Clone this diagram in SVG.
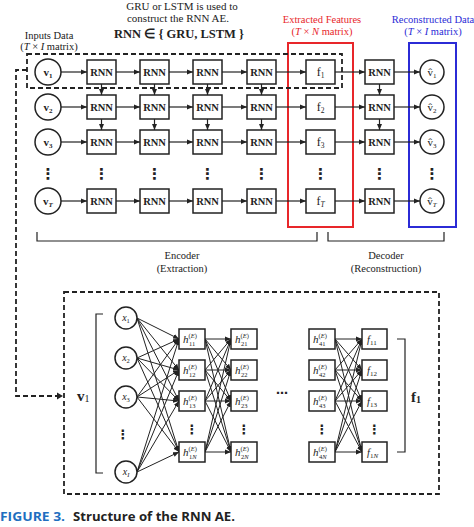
<svg xmlns="http://www.w3.org/2000/svg" width="474" height="527" viewBox="0 0 474 527">
<style>
.t{font-family:"Liberation Serif","Times New Roman",serif;fill:#222}
.b{font-weight:bold}
.i{font-style:italic}
.box{fill:#fff;stroke:#222;stroke-width:1.5}
.cir{fill:#fff;stroke:#222;stroke-width:1.5}
.ln{stroke:#222;stroke-width:1.2;fill:none}
.ar{stroke:#222;stroke-width:1.2;fill:none;marker-end:url(#ah)}
.ar2{stroke:#222;stroke-width:1;fill:none;marker-end:url(#ah2)}
.dash{stroke:#222;stroke-width:1.8;fill:none;stroke-dasharray:5 3}
.dots{font-family:"DejaVu Sans",sans-serif;font-weight:bold;fill:#222;text-anchor:middle}
.c{text-anchor:middle}
</style>
<defs>
<marker id="ah" markerWidth="6" markerHeight="6" refX="6" refY="3" orient="auto" markerUnits="userSpaceOnUse"><path d="M0,0.5 L6,3 L0,5.5z" fill="#222"/></marker>
<marker id="ah2" markerWidth="6" markerHeight="6" refX="6" refY="3" orient="auto" markerUnits="userSpaceOnUse"><path d="M0,0.5 L6,3 L0,5.5z" fill="#222"/></marker>
</defs>
<rect width="474" height="527" fill="#fff"/>

<!-- header texts -->
<g id="header">
<text class="t c" x="182" y="10" font-size="11">GRU or LSTM is used to</text>
<text class="t c" x="178" y="22" font-size="11">construct the RNN AE.</text>
<text class="t b c" x="179" y="38" font-size="12.5">RNN  ∈ { GRU, LSTM }</text>
<text class="t c" x="49" y="39" font-size="10.5">Inputs Data</text>
<text class="t c" x="49" y="50" font-size="10.5">(<tspan class="i">T</tspan> × <tspan class="i">I</tspan> matrix)</text>
<text class="t c" x="322" y="23" font-size="10.5" style="fill:#e8262a">Extracted Features</text>
<text class="t c" x="322" y="35" font-size="10.5" style="fill:#e8262a">(<tspan class="i">T</tspan> × <tspan class="i">N</tspan> matrix)</text>
<text class="t c" x="433" y="23" font-size="10.5" style="fill:#2b2bd6">Reconstructed Data</text>
<text class="t c" x="433" y="35" font-size="10.5" style="fill:#2b2bd6">(<tspan class="i">T</tspan> × <tspan class="i">I</tspan> matrix)</text>
</g>

<!-- colored groups -->
<rect id="features-frame" x="288" y="43" width="65" height="184" fill="none" stroke="#e8262a" stroke-width="2"/>
<rect id="recon-frame" x="409" y="43" width="47" height="184" fill="none" stroke="#2b2bd6" stroke-width="2"/>

<!-- connectors top -->
<g id="connectors-top">
<path class="ar" d="M61,72H87"/><path class="ar" d="M116,72H140"/><path class="ar" d="M169,72H193"/><path class="ar" d="M222,72H247"/><path class="ar" d="M276,72H306"/><path class="ar" d="M335,72H365"/><path class="ar" d="M394,72H420"/>
<path class="ar" d="M61,107H87"/><path class="ar" d="M116,107H140"/><path class="ar" d="M169,107H193"/><path class="ar" d="M222,107H247"/><path class="ar" d="M276,107H306"/><path class="ar" d="M335,107H365"/><path class="ar" d="M394,107H420"/>
<path class="ar" d="M61,142H87"/><path class="ar" d="M116,142H140"/><path class="ar" d="M169,142H193"/><path class="ar" d="M222,142H247"/><path class="ar" d="M276,142H306"/><path class="ar" d="M335,142H365"/><path class="ar" d="M394,142H420"/>
<path class="ar" d="M61,201H87"/><path class="ar" d="M116,201H140"/><path class="ar" d="M169,201H193"/><path class="ar" d="M222,201H247"/><path class="ar" d="M276,201H306"/><path class="ar" d="M335,201H365"/><path class="ar" d="M394,201H420"/>
<path class="ar" d="M101.5,84V95"/><path class="ar" d="M154.5,84V95"/><path class="ar" d="M207.5,84V95"/><path class="ar" d="M261.5,84V95"/><path class="ar" d="M379.5,84V95"/>
<path class="ar" d="M101.5,119V130"/><path class="ar" d="M154.5,119V130"/><path class="ar" d="M207.5,119V130"/><path class="ar" d="M261.5,119V130"/><path class="ar" d="M379.5,119V130"/>
<path class="dash" d="M27,70H16V396H58"/>
<path d="M57,392.5 L63,396 L57,399.5z" fill="#222"/>
</g>

<!-- input nodes -->
<g id="inputs">
<circle class="cir" cx="48" cy="72" r="13"/><text class="t b c" x="48" y="76" font-size="11">v<tspan font-size="7" dy="2">1</tspan></text>
<circle class="cir" cx="48" cy="107" r="13"/><text class="t b c" x="48" y="111" font-size="11">v<tspan font-size="7" dy="2">2</tspan></text>
<circle class="cir" cx="48" cy="142" r="13"/><text class="t b c" x="48" y="146" font-size="11">v<tspan font-size="7" dy="2">3</tspan></text>
<text class="dots" x="48" y="179" font-size="15">⋮</text>
<circle class="cir" cx="48" cy="201" r="13"/><text class="t b c" x="48" y="205" font-size="11">v<tspan font-size="7" dy="2" class="i">T</tspan></text>
</g>

<!-- encoder RNN nodes -->
<g id="encoder">
<rect class="box" x="87" y="60" width="29" height="24"/><rect class="box" x="140" y="60" width="29" height="24"/><rect class="box" x="193" y="60" width="29" height="24"/><rect class="box" x="247" y="60" width="29" height="24"/>
<rect class="box" x="87" y="95" width="29" height="24"/><rect class="box" x="140" y="95" width="29" height="24"/><rect class="box" x="193" y="95" width="29" height="24"/><rect class="box" x="247" y="95" width="29" height="24"/>
<rect class="box" x="87" y="130" width="29" height="24"/><rect class="box" x="140" y="130" width="29" height="24"/><rect class="box" x="193" y="130" width="29" height="24"/><rect class="box" x="247" y="130" width="29" height="24"/>
<rect class="box" x="87" y="189" width="29" height="24"/><rect class="box" x="140" y="189" width="29" height="24"/><rect class="box" x="193" y="189" width="29" height="24"/><rect class="box" x="247" y="189" width="29" height="24"/>
<g class="t b c" font-size="10.5">
<text x="101.5" y="76">RNN</text><text x="154.5" y="76">RNN</text><text x="207.5" y="76">RNN</text><text x="261.5" y="76">RNN</text>
<text x="101.5" y="111">RNN</text><text x="154.5" y="111">RNN</text><text x="207.5" y="111">RNN</text><text x="261.5" y="111">RNN</text>
<text x="101.5" y="146">RNN</text><text x="154.5" y="146">RNN</text><text x="207.5" y="146">RNN</text><text x="261.5" y="146">RNN</text>
<text x="101.5" y="205">RNN</text><text x="154.5" y="205">RNN</text><text x="207.5" y="205">RNN</text><text x="261.5" y="205">RNN</text>
</g>
<g font-size="15"><text class="dots" x="101.5" y="179">⋮</text><text class="dots" x="154.5" y="179">⋮</text><text class="dots" x="207.5" y="179">⋮</text><text class="dots" x="261.5" y="179">⋮</text></g>
</g>

<!-- feature nodes -->
<g id="features">
<rect class="box" x="306" y="60" width="29" height="24"/><rect class="box" x="306" y="95" width="29" height="24"/><rect class="box" x="306" y="130" width="29" height="24"/><rect class="box" x="306" y="189" width="29" height="24"/>
<text class="t c" x="320.5" y="76" font-size="12">f<tspan font-size="7.5" dy="2">1</tspan></text>
<text class="t c" x="320.5" y="111" font-size="12">f<tspan font-size="7.5" dy="2">2</tspan></text>
<text class="t c" x="320.5" y="146" font-size="12">f<tspan font-size="7.5" dy="2">3</tspan></text>
<text class="t c" x="320.5" y="205" font-size="12">f<tspan font-size="7.5" dy="2" class="i">T</tspan></text>
<text class="dots" x="320.5" y="179" font-size="15">⋮</text>
</g>

<!-- decoder nodes -->
<g id="decoder">
<rect class="box" x="365" y="60" width="29" height="24"/><rect class="box" x="365" y="95" width="29" height="24"/><rect class="box" x="365" y="130" width="29" height="24"/><rect class="box" x="365" y="189" width="29" height="24"/>
<g class="t b c" font-size="10.5"><text x="379.5" y="76">RNN</text><text x="379.5" y="111">RNN</text><text x="379.5" y="146">RNN</text><text x="379.5" y="205">RNN</text></g>
<text class="dots" x="379.5" y="179" font-size="15">⋮</text>
</g>

<!-- reconstructed nodes -->
<g id="outputs">
<circle class="cir" cx="432" cy="72" r="12"/><text class="t c" x="432" y="76" font-size="11">v̂<tspan font-size="7" dy="2">1</tspan></text>
<circle class="cir" cx="432" cy="107" r="12"/><text class="t c" x="432" y="111" font-size="11">v̂<tspan font-size="7" dy="2">2</tspan></text>
<circle class="cir" cx="432" cy="142" r="12"/><text class="t c" x="432" y="146" font-size="11">v̂<tspan font-size="7" dy="2">3</tspan></text>
<text class="dots" x="432" y="179" font-size="15">⋮</text>
<circle class="cir" cx="432" cy="201" r="12"/><text class="t c" x="432" y="205" font-size="11">v̂<tspan font-size="7" dy="2" class="i">T</tspan></text>
</g>

<rect id="row1-highlight" class="dash" x="27" y="54" width="315" height="34"/>

<!-- braces -->
<g id="braces">
<path class="ln" stroke-width="1.5" d="M37,232V241H317V232"/>
<path class="ln" stroke-width="1.5" d="M328,232V241H444V232"/>
<text class="t c" x="182" y="259" font-size="10.5">Encoder</text>
<text class="t c" x="182" y="272" font-size="10.5">(Extraction)</text>
<text class="t c" x="386" y="259" font-size="10.5">Decoder</text>
<text class="t c" x="386" y="272" font-size="10.5">(Reconstruction)</text>
</g>

<rect id="detail-frame" class="dash" x="64" y="292" width="375" height="202"/>

<g id="detail-connectors">
<path class="ar2" d="M137,318L179,339"/><path class="ar2" d="M137,318L179,370"/><path class="ar2" d="M137,318L179,401"/><path class="ar2" d="M137,318L179,452"/>
<path class="ar2" d="M137,358L179,339"/><path class="ar2" d="M137,358L179,370"/><path class="ar2" d="M137,358L179,401"/><path class="ar2" d="M137,358L179,452"/>
<path class="ar2" d="M137,397L179,339"/><path class="ar2" d="M137,397L179,370"/><path class="ar2" d="M137,397L179,401"/><path class="ar2" d="M137,397L179,452"/>
<path class="ar2" d="M137,472L179,339"/><path class="ar2" d="M137,472L179,370"/><path class="ar2" d="M137,472L179,401"/><path class="ar2" d="M137,472L179,452"/>
<path class="ar2" d="M205,339L231,339"/><path class="ar2" d="M205,339L231,370"/><path class="ar2" d="M205,339L231,401"/><path class="ar2" d="M205,339L231,452"/>
<path class="ar2" d="M205,370L231,339"/><path class="ar2" d="M205,370L231,370"/><path class="ar2" d="M205,370L231,401"/><path class="ar2" d="M205,370L231,452"/>
<path class="ar2" d="M205,401L231,339"/><path class="ar2" d="M205,401L231,370"/><path class="ar2" d="M205,401L231,401"/><path class="ar2" d="M205,401L231,452"/>
<path class="ar2" d="M205,452L231,339"/><path class="ar2" d="M205,452L231,370"/><path class="ar2" d="M205,452L231,401"/><path class="ar2" d="M205,452L231,452"/>
<path class="ar2" d="M335,339L362,339"/><path class="ar2" d="M335,339L362,370"/><path class="ar2" d="M335,339L362,401"/><path class="ar2" d="M335,339L362,452"/>
<path class="ar2" d="M335,370L362,339"/><path class="ar2" d="M335,370L362,370"/><path class="ar2" d="M335,370L362,401"/><path class="ar2" d="M335,370L362,452"/>
<path class="ar2" d="M335,401L362,339"/><path class="ar2" d="M335,401L362,370"/><path class="ar2" d="M335,401L362,401"/><path class="ar2" d="M335,401L362,452"/>
<path class="ar2" d="M335,452L362,339"/><path class="ar2" d="M335,452L362,370"/><path class="ar2" d="M335,452L362,401"/><path class="ar2" d="M335,452L362,452"/>
</g>

<g id="v1-label">
<text class="t b" x="77" y="401" font-size="15">v<tspan font-size="10" dy="1" font-weight="normal">1</tspan></text>
<path class="ln" stroke-width="1.5" d="M103,314H96V473H103"/>
</g>

<g id="x-nodes">
<circle class="cir" cx="126" cy="318" r="11"/><text class="t i c" x="126" y="321" font-size="10">x<tspan font-size="6.5" dy="2" font-style="normal">1</tspan></text>
<circle class="cir" cx="126" cy="358" r="11"/><text class="t i c" x="126" y="361" font-size="10">x<tspan font-size="6.5" dy="2" font-style="normal">2</tspan></text>
<circle class="cir" cx="126" cy="397" r="11"/><text class="t i c" x="126" y="400" font-size="10">x<tspan font-size="6.5" dy="2" font-style="normal">3</tspan></text>
<text class="dots" x="123" y="439" font-size="13">⋮</text>
<circle class="cir" cx="126" cy="472" r="11"/><text class="t i c" x="126" y="475" font-size="10">x<tspan font-size="6.5" dy="2">I</tspan></text>
</g>

<g id="h1-nodes">
<rect class="box" x="179" y="329" width="26" height="20"/><rect class="box" x="179" y="360" width="26" height="20"/><rect class="box" x="179" y="391" width="26" height="20"/><rect class="box" x="179" y="442" width="26" height="20"/>
<text class="t i" x="183" y="343" font-size="11">h<tspan font-size="6.5" dy="-5" font-style="normal">(<tspan font-style="italic">E</tspan>)</tspan><tspan font-size="6.5" x="189" dy="8" font-style="normal">11</tspan></text>
<text class="t i" x="183" y="374" font-size="11">h<tspan font-size="6.5" dy="-5" font-style="normal">(<tspan font-style="italic">E</tspan>)</tspan><tspan font-size="6.5" x="189" dy="8" font-style="normal">12</tspan></text>
<text class="t i" x="183" y="405" font-size="11">h<tspan font-size="6.5" dy="-5" font-style="normal">(<tspan font-style="italic">E</tspan>)</tspan><tspan font-size="6.5" x="189" dy="8" font-style="normal">13</tspan></text>
<text class="t i" x="183" y="456" font-size="11">h<tspan font-size="6.5" dy="-5" font-style="normal">(<tspan font-style="italic">E</tspan>)</tspan><tspan font-size="6.5" x="189" dy="8" font-style="normal">1<tspan font-style="italic">N</tspan></tspan></text>
<text class="dots" x="192" y="434" font-size="13">⋮</text>
</g>

<g id="h2-nodes">
<rect class="box" x="231" y="329" width="26" height="20"/><rect class="box" x="231" y="360" width="26" height="20"/><rect class="box" x="231" y="391" width="26" height="20"/><rect class="box" x="231" y="442" width="26" height="20"/>
<text class="t i" x="235" y="343" font-size="11">h<tspan font-size="6.5" dy="-5" font-style="normal">(<tspan font-style="italic">E</tspan>)</tspan><tspan font-size="6.5" x="241" dy="8" font-style="normal">21</tspan></text>
<text class="t i" x="235" y="374" font-size="11">h<tspan font-size="6.5" dy="-5" font-style="normal">(<tspan font-style="italic">E</tspan>)</tspan><tspan font-size="6.5" x="241" dy="8" font-style="normal">22</tspan></text>
<text class="t i" x="235" y="405" font-size="11">h<tspan font-size="6.5" dy="-5" font-style="normal">(<tspan font-style="italic">E</tspan>)</tspan><tspan font-size="6.5" x="241" dy="8" font-style="normal">23</tspan></text>
<text class="t i" x="235" y="456" font-size="11">h<tspan font-size="6.5" dy="-5" font-style="normal">(<tspan font-style="italic">E</tspan>)</tspan><tspan font-size="6.5" x="241" dy="8" font-style="normal">2<tspan font-style="italic">N</tspan></tspan></text>
<text class="dots" x="244" y="434" font-size="13">⋮</text>
</g>

<text id="h-ellipsis" class="dots" x="282" y="397" font-size="12">⋯</text>

<g id="h4-nodes">
<rect class="box" x="309" y="329" width="26" height="20"/><rect class="box" x="309" y="360" width="26" height="20"/><rect class="box" x="309" y="391" width="26" height="20"/><rect class="box" x="309" y="442" width="26" height="20"/>
<text class="t i" x="313" y="343" font-size="11">h<tspan font-size="6.5" dy="-5" font-style="normal">(<tspan font-style="italic">E</tspan>)</tspan><tspan font-size="6.5" x="319" dy="8" font-style="normal">41</tspan></text>
<text class="t i" x="313" y="374" font-size="11">h<tspan font-size="6.5" dy="-5" font-style="normal">(<tspan font-style="italic">E</tspan>)</tspan><tspan font-size="6.5" x="319" dy="8" font-style="normal">42</tspan></text>
<text class="t i" x="313" y="405" font-size="11">h<tspan font-size="6.5" dy="-5" font-style="normal">(<tspan font-style="italic">E</tspan>)</tspan><tspan font-size="6.5" x="319" dy="8" font-style="normal">43</tspan></text>
<text class="t i" x="313" y="456" font-size="11">h<tspan font-size="6.5" dy="-5" font-style="normal">(<tspan font-style="italic">E</tspan>)</tspan><tspan font-size="6.5" x="319" dy="8" font-style="normal">4<tspan font-style="italic">N</tspan></tspan></text>
<text class="dots" x="322" y="434" font-size="13">⋮</text>
</g>

<g id="f-nodes">
<rect class="box" x="362" y="329" width="25" height="20"/><rect class="box" x="362" y="360" width="25" height="20"/><rect class="box" x="362" y="391" width="25" height="20"/><rect class="box" x="362" y="442" width="25" height="20"/>
<text class="t i" x="367" y="343" font-size="10.5">f<tspan font-size="7" dy="1.5" font-style="normal">11</tspan></text>
<text class="t i" x="367" y="374" font-size="10.5">f<tspan font-size="7" dy="1.5" font-style="normal">12</tspan></text>
<text class="t i" x="367" y="405" font-size="10.5">f<tspan font-size="7" dy="1.5" font-style="normal">13</tspan></text>
<text class="t i" x="367" y="456" font-size="10.5">f<tspan font-size="7" dy="1.5" font-style="normal">1<tspan font-style="italic">N</tspan></tspan></text>
<text class="dots" x="374.5" y="434" font-size="13">⋮</text>
</g>

<g id="f1-label">
<path class="ln" stroke-width="1.5" d="M397,339H405V452H397"/>
<text class="t b" x="411" y="402" font-size="15">f<tspan font-size="10" dy="1">1</tspan></text>
</g>

<text id="caption" x="0" y="521" font-family="'Open Sans','Liberation Sans',sans-serif" font-weight="bold" font-size="11.5"><tspan fill="#1f6fc0" textLength="65" lengthAdjust="spacingAndGlyphs">FIGURE 3.</tspan><tspan x="73" fill="#222" textLength="162" lengthAdjust="spacingAndGlyphs">Structure of the RNN AE.</tspan></text>
</svg>
